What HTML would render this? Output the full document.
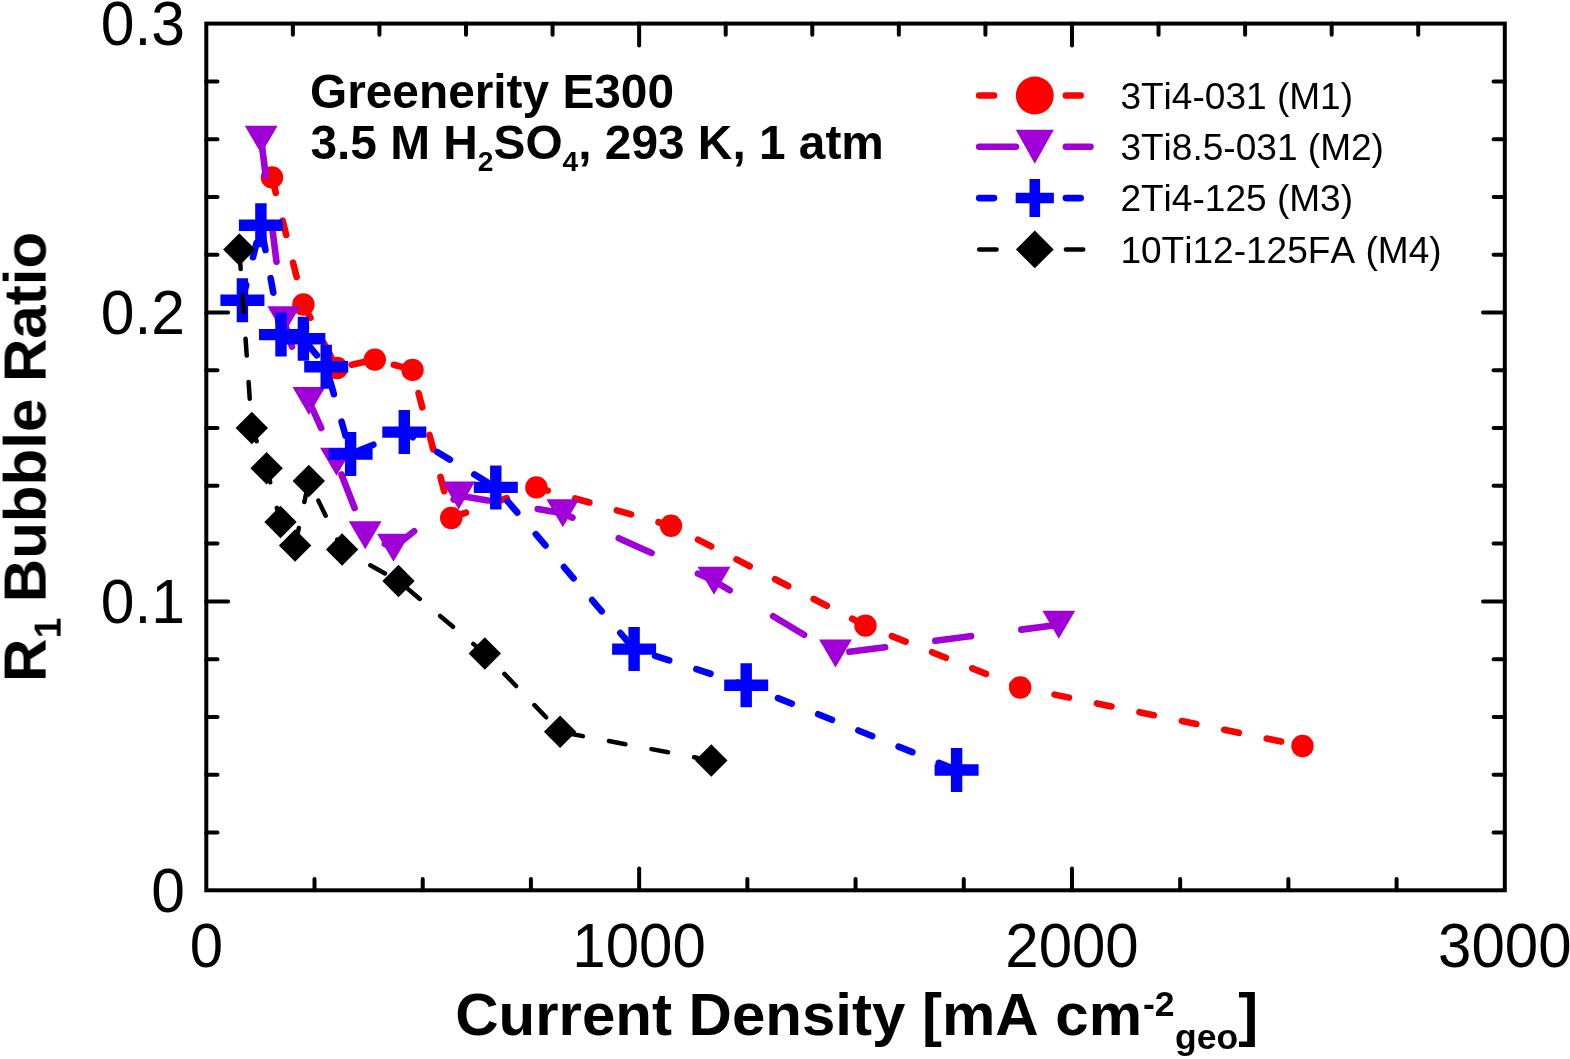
<!DOCTYPE html>
<html lang="en"><head><meta charset="utf-8"><title>R1 Bubble Ratio vs Current Density</title>
<style>
html,body{margin:0;padding:0;background:#fff;}
body{width:1570px;height:1059px;overflow:hidden;}
svg{display:block;}
text{font-family:"Liberation Sans",Arial,Helvetica,sans-serif;fill:#000;font-kerning:none;}
.tk{font-size:60px;}
.ttl{font-size:60px;font-weight:bold;}
.ann{font-size:47.8px;font-weight:bold;}
.lg{font-size:37.05px;}
</style></head><body>
<svg width="1570" height="1059" viewBox="0 0 1570 1059">
<rect x="0" y="0" width="1570" height="1059" fill="#ffffff"/>
<defs><filter id="soft" x="0" y="0" width="1570" height="1059" filterUnits="userSpaceOnUse"><feGaussianBlur stdDeviation="0.55"/></filter></defs>
<g filter="url(#soft)">
<g stroke="#000" stroke-width="4.00" stroke-linecap="round" fill="none">
<line x1="206.30" y1="832.52" x2="217.50" y2="832.52"/>
<line x1="1504.80" y1="832.52" x2="1493.60" y2="832.52"/>
<line x1="206.30" y1="774.74" x2="217.50" y2="774.74"/>
<line x1="1504.80" y1="774.74" x2="1493.60" y2="774.74"/>
<line x1="206.30" y1="716.96" x2="217.50" y2="716.96"/>
<line x1="1504.80" y1="716.96" x2="1493.60" y2="716.96"/>
<line x1="206.30" y1="659.18" x2="217.50" y2="659.18"/>
<line x1="1504.80" y1="659.18" x2="1493.60" y2="659.18"/>
<line x1="206.30" y1="601.40" x2="228.10" y2="601.40"/>
<line x1="1504.80" y1="601.40" x2="1483.00" y2="601.40"/>
<line x1="206.30" y1="543.62" x2="217.50" y2="543.62"/>
<line x1="1504.80" y1="543.62" x2="1493.60" y2="543.62"/>
<line x1="206.30" y1="485.84" x2="217.50" y2="485.84"/>
<line x1="1504.80" y1="485.84" x2="1493.60" y2="485.84"/>
<line x1="206.30" y1="428.06" x2="217.50" y2="428.06"/>
<line x1="1504.80" y1="428.06" x2="1493.60" y2="428.06"/>
<line x1="206.30" y1="370.28" x2="217.50" y2="370.28"/>
<line x1="1504.80" y1="370.28" x2="1493.60" y2="370.28"/>
<line x1="206.30" y1="312.50" x2="228.10" y2="312.50"/>
<line x1="1504.80" y1="312.50" x2="1483.00" y2="312.50"/>
<line x1="206.30" y1="254.72" x2="217.50" y2="254.72"/>
<line x1="1504.80" y1="254.72" x2="1493.60" y2="254.72"/>
<line x1="206.30" y1="196.94" x2="217.50" y2="196.94"/>
<line x1="1504.80" y1="196.94" x2="1493.60" y2="196.94"/>
<line x1="206.30" y1="139.16" x2="217.50" y2="139.16"/>
<line x1="1504.80" y1="139.16" x2="1493.60" y2="139.16"/>
<line x1="206.30" y1="81.38" x2="217.50" y2="81.38"/>
<line x1="1504.80" y1="81.38" x2="1493.60" y2="81.38"/>
<line x1="314.51" y1="890.30" x2="314.51" y2="879.10"/>
<line x1="422.72" y1="890.30" x2="422.72" y2="879.10"/>
<line x1="530.92" y1="890.30" x2="530.92" y2="879.10"/>
<line x1="639.13" y1="890.30" x2="639.13" y2="868.50"/>
<line x1="747.34" y1="890.30" x2="747.34" y2="879.10"/>
<line x1="855.55" y1="890.30" x2="855.55" y2="879.10"/>
<line x1="963.76" y1="890.30" x2="963.76" y2="879.10"/>
<line x1="1071.97" y1="890.30" x2="1071.97" y2="868.50"/>
<line x1="1180.17" y1="890.30" x2="1180.17" y2="879.10"/>
<line x1="1288.38" y1="890.30" x2="1288.38" y2="879.10"/>
<line x1="1396.59" y1="890.30" x2="1396.59" y2="879.10"/>
<line x1="292.87" y1="23.60" x2="292.87" y2="34.80"/>
<line x1="379.43" y1="23.60" x2="379.43" y2="34.80"/>
<line x1="466.00" y1="23.60" x2="466.00" y2="34.80"/>
<line x1="552.57" y1="23.60" x2="552.57" y2="34.80"/>
<line x1="639.13" y1="23.60" x2="639.13" y2="45.40"/>
<line x1="725.70" y1="23.60" x2="725.70" y2="34.80"/>
<line x1="812.27" y1="23.60" x2="812.27" y2="34.80"/>
<line x1="898.83" y1="23.60" x2="898.83" y2="34.80"/>
<line x1="985.40" y1="23.60" x2="985.40" y2="34.80"/>
<line x1="1071.97" y1="23.60" x2="1071.97" y2="45.40"/>
<line x1="1158.53" y1="23.60" x2="1158.53" y2="34.80"/>
<line x1="1245.10" y1="23.60" x2="1245.10" y2="34.80"/>
<line x1="1331.67" y1="23.60" x2="1331.67" y2="34.80"/>
<line x1="1418.23" y1="23.60" x2="1418.23" y2="34.80"/>
</g>
<g id="series-m1">
<polyline points="272.0,177.4 303.4,304.5 337.0,368.0 374.8,359.6 412.5,369.9 451.2,518.0 536.4,487.4 671.0,525.8 865.5,625.6 1020.2,687.5 1302.5,746.0" fill="none" stroke="#ff0000" stroke-width="6.60" stroke-linecap="round" stroke-linejoin="round" stroke-dasharray="14.80 28.53" stroke-dashoffset="-1.2"/>
<circle cx="272.0" cy="177.4" r="11.20" fill="#ff0000"/>
<circle cx="303.4" cy="304.5" r="11.20" fill="#ff0000"/>
<circle cx="337.0" cy="368.0" r="11.20" fill="#ff0000"/>
<circle cx="374.8" cy="359.6" r="11.20" fill="#ff0000"/>
<circle cx="412.5" cy="369.9" r="11.20" fill="#ff0000"/>
<circle cx="451.2" cy="518.0" r="11.20" fill="#ff0000"/>
<circle cx="536.4" cy="487.4" r="11.20" fill="#ff0000"/>
<circle cx="671.0" cy="525.8" r="11.20" fill="#ff0000"/>
<circle cx="865.5" cy="625.6" r="11.20" fill="#ff0000"/>
<circle cx="1020.2" cy="687.5" r="11.20" fill="#ff0000"/>
<circle cx="1302.5" cy="746.0" r="11.20" fill="#ff0000"/>
</g>
<g id="series-m2">
<polyline points="261.2,139.7 283.8,320.3 308.9,401.0 336.5,461.8 365.2,535.3 393.5,547.8 458.7,495.5 562.8,513.3 714.0,580.8 835.5,653.6 1058.8,624.8" fill="none" stroke="#a000d7" stroke-width="6.60" stroke-linecap="round" stroke-linejoin="round" stroke-dasharray="36.00 50.66" stroke-dashoffset="-0.3"/>
<polygon points="244.8,125.7 277.6,125.7 261.2,153.7" fill="#a000d7"/>
<polygon points="267.4,306.3 300.2,306.3 283.8,334.3" fill="#a000d7"/>
<polygon points="292.5,387.0 325.3,387.0 308.9,415.0" fill="#a000d7"/>
<polygon points="320.1,447.8 352.9,447.8 336.5,475.8" fill="#a000d7"/>
<polygon points="348.8,521.3 381.6,521.3 365.2,549.3" fill="#a000d7"/>
<polygon points="377.1,533.8 409.9,533.8 393.5,561.8" fill="#a000d7"/>
<polygon points="442.3,481.5 475.1,481.5 458.7,509.5" fill="#a000d7"/>
<polygon points="546.4,499.3 579.2,499.3 562.8,527.3" fill="#a000d7"/>
<polygon points="697.6,566.8 730.4,566.8 714.0,594.8" fill="#a000d7"/>
<polygon points="819.1,639.6 851.9,639.6 835.5,667.6" fill="#a000d7"/>
<polygon points="1042.4,610.8 1075.2,610.8 1058.8,638.8" fill="#a000d7"/>
</g>
<g id="series-m3">
<polyline points="242.4,300.3 260.9,225.3 281.0,334.6 303.4,338.8 326.2,366.8 350.6,454.0 404.3,432.1 495.8,487.4 634.1,649.1 746.2,685.3 956.6,770.0" fill="none" stroke="#0000ff" stroke-width="6.60" stroke-linecap="round" stroke-linejoin="round" stroke-dasharray="14.80 28.53" stroke-dashoffset="-1.0"/>
<path d="M236.7 278.3h11.4v16.3h16.3v11.4h-16.3v16.3h-11.4v-16.3h-16.3v-11.4h16.3z" fill="#0000ff"/>
<path d="M255.2 203.3h11.4v16.3h16.3v11.4h-16.3v16.3h-11.4v-16.3h-16.3v-11.4h16.3z" fill="#0000ff"/>
<path d="M275.3 312.6h11.4v16.3h16.3v11.4h-16.3v16.3h-11.4v-16.3h-16.3v-11.4h16.3z" fill="#0000ff"/>
<path d="M297.7 316.8h11.4v16.3h16.3v11.4h-16.3v16.3h-11.4v-16.3h-16.3v-11.4h16.3z" fill="#0000ff"/>
<path d="M320.5 344.8h11.4v16.3h16.3v11.4h-16.3v16.3h-11.4v-16.3h-16.3v-11.4h16.3z" fill="#0000ff"/>
<path d="M344.9 432.0h11.4v16.3h16.3v11.4h-16.3v16.3h-11.4v-16.3h-16.3v-11.4h16.3z" fill="#0000ff"/>
<path d="M398.6 410.1h11.4v16.3h16.3v11.4h-16.3v16.3h-11.4v-16.3h-16.3v-11.4h16.3z" fill="#0000ff"/>
<path d="M490.1 465.4h11.4v16.3h16.3v11.4h-16.3v16.3h-11.4v-16.3h-16.3v-11.4h16.3z" fill="#0000ff"/>
<path d="M628.4 627.1h11.4v16.3h16.3v11.4h-16.3v16.3h-11.4v-16.3h-16.3v-11.4h16.3z" fill="#0000ff"/>
<path d="M740.5 663.3h11.4v16.3h16.3v11.4h-16.3v16.3h-11.4v-16.3h-16.3v-11.4h16.3z" fill="#0000ff"/>
<path d="M950.9 748.0h11.4v16.3h16.3v11.4h-16.3v16.3h-11.4v-16.3h-16.3v-11.4h16.3z" fill="#0000ff"/>
</g>
<g id="series-m4">
<polyline points="239.3,249.5 251.8,428.0 266.6,468.3 280.5,522.0 295.1,545.5 308.8,481.0 342.1,549.5 398.5,581.0 484.8,653.5 560.1,731.8 711.3,760.5" fill="none" stroke="#000000" stroke-width="4.50" stroke-linecap="round" stroke-linejoin="round" stroke-dasharray="16.80 26.53" stroke-dashoffset="-2.8"/>
<polygon points="239.3,233.3 255.5,249.5 239.3,265.7 223.1,249.5" fill="#000000"/>
<polygon points="251.8,411.8 268.0,428.0 251.8,444.2 235.6,428.0" fill="#000000"/>
<polygon points="266.6,452.1 282.8,468.3 266.6,484.5 250.4,468.3" fill="#000000"/>
<polygon points="280.5,505.8 296.7,522.0 280.5,538.2 264.3,522.0" fill="#000000"/>
<polygon points="295.1,529.3 311.3,545.5 295.1,561.7 278.9,545.5" fill="#000000"/>
<polygon points="308.8,464.8 325.0,481.0 308.8,497.2 292.6,481.0" fill="#000000"/>
<polygon points="342.1,533.3 358.3,549.5 342.1,565.7 325.9,549.5" fill="#000000"/>
<polygon points="398.5,564.8 414.7,581.0 398.5,597.2 382.3,581.0" fill="#000000"/>
<polygon points="484.8,637.3 501.0,653.5 484.8,669.7 468.6,653.5" fill="#000000"/>
<polygon points="560.1,715.6 576.3,731.8 560.1,748.0 543.9,731.8" fill="#000000"/>
<polygon points="711.3,744.3 727.5,760.5 711.3,776.7 695.1,760.5" fill="#000000"/>
</g>
<rect x="206.30" y="23.60" width="1298.50" height="866.70" fill="none" stroke="#000" stroke-width="4.00"/>
<text class="tk" style="font-size:60.6px" transform="translate(185 44.8) scale(1 1.03)" text-anchor="end">0.3</text>
<text class="tk" style="font-size:60.6px" transform="translate(185 333.7) scale(1 1.03)" text-anchor="end">0.2</text>
<text class="tk" style="font-size:60.6px" transform="translate(185 622.6) scale(1 1.03)" text-anchor="end">0.1</text>
<text class="tk" style="font-size:60.6px" transform="translate(185 911.5) scale(1 1.03)" text-anchor="end">0</text>
<text class="tk" transform="translate(206.3 966.6) scale(1 1.035)" text-anchor="middle">0</text>
<text class="tk" transform="translate(639.1 966.6) scale(1 1.035)" text-anchor="middle">1000</text>
<text class="tk" transform="translate(1072.0 966.6) scale(1 1.035)" text-anchor="middle">2000</text>
<text class="tk" transform="translate(1504.8 966.6) scale(1 1.035)" text-anchor="middle">3000</text>
<text class="ttl" transform="translate(455.2 1034.8)">Current Density [mA cm<tspan font-size="35.5" dx="1" dy="-19.3">-2</tspan><tspan font-size="35.5" dx="0.5" dy="33.3">geo</tspan><tspan dy="-14">]</tspan></text>
<text class="ttl" style="font-size:60.05px" transform="translate(45.6 682.0) rotate(-90)">R<tspan font-size="37" dx="0.4" dy="15">1</tspan><tspan dx="-1.2" dy="-15"> Bubble Ratio</tspan></text>
<text class="ann" x="310" y="107.8">Greenerity E300</text>
<text class="ann" x="310.5" y="158.5">3.5 M H<tspan font-size="28.2" dy="12.3">2</tspan><tspan dy="-12.3">SO</tspan><tspan font-size="28.2" dy="12.3">4</tspan><tspan dy="-12.3">, 293 K, 1 atm</tspan></text>
<g id="legend">
<line x1="979.2" y1="95.5" x2="1090.5" y2="95.5" stroke="#ff0000" stroke-width="6.60" stroke-linecap="round" stroke-dasharray="14.80 28.53"/>
<circle cx="1034.8" cy="95.5" r="18.95" fill="#ff0000"/>
<text class="lg" x="1120.4" y="108.6">3Ti4-031 (M1)</text>
<line x1="979.2" y1="146.8" x2="1090.5" y2="146.8" stroke="#a000d7" stroke-width="6.60" stroke-linecap="round" stroke-dasharray="36.70 49.96"/>
<polygon points="1015.8,129.7 1053.8,129.7 1034.8,163.7" fill="#a000d7"/>
<text class="lg" x="1120.4" y="159.9">3Ti8.5-031 (M2)</text>
<line x1="979.2" y1="198.1" x2="1090.5" y2="198.1" stroke="#0000ff" stroke-width="6.60" stroke-linecap="round" stroke-dasharray="14.80 28.53"/>
<path d="M1029.5 178.9h10.6v13.8h13.8v10.6h-13.8v13.8h-10.6v-13.8h-13.8v-10.6h13.8z" fill="#0000ff"/>
<text class="lg" x="1120.4" y="211.2">2Ti4-125 (M3)</text>
<line x1="979.2" y1="249.4" x2="1090.5" y2="249.4" stroke="#000000" stroke-width="4.50" stroke-linecap="round" stroke-dasharray="17.40 25.93"/>
<polygon points="1034.8,230.5 1053.7,249.4 1034.8,268.3 1015.9,249.4" fill="#000000"/>
<text class="lg" x="1120.4" y="262.5">10Ti12-125FA (M4)</text>
</g>
</g>
</svg></body></html>
